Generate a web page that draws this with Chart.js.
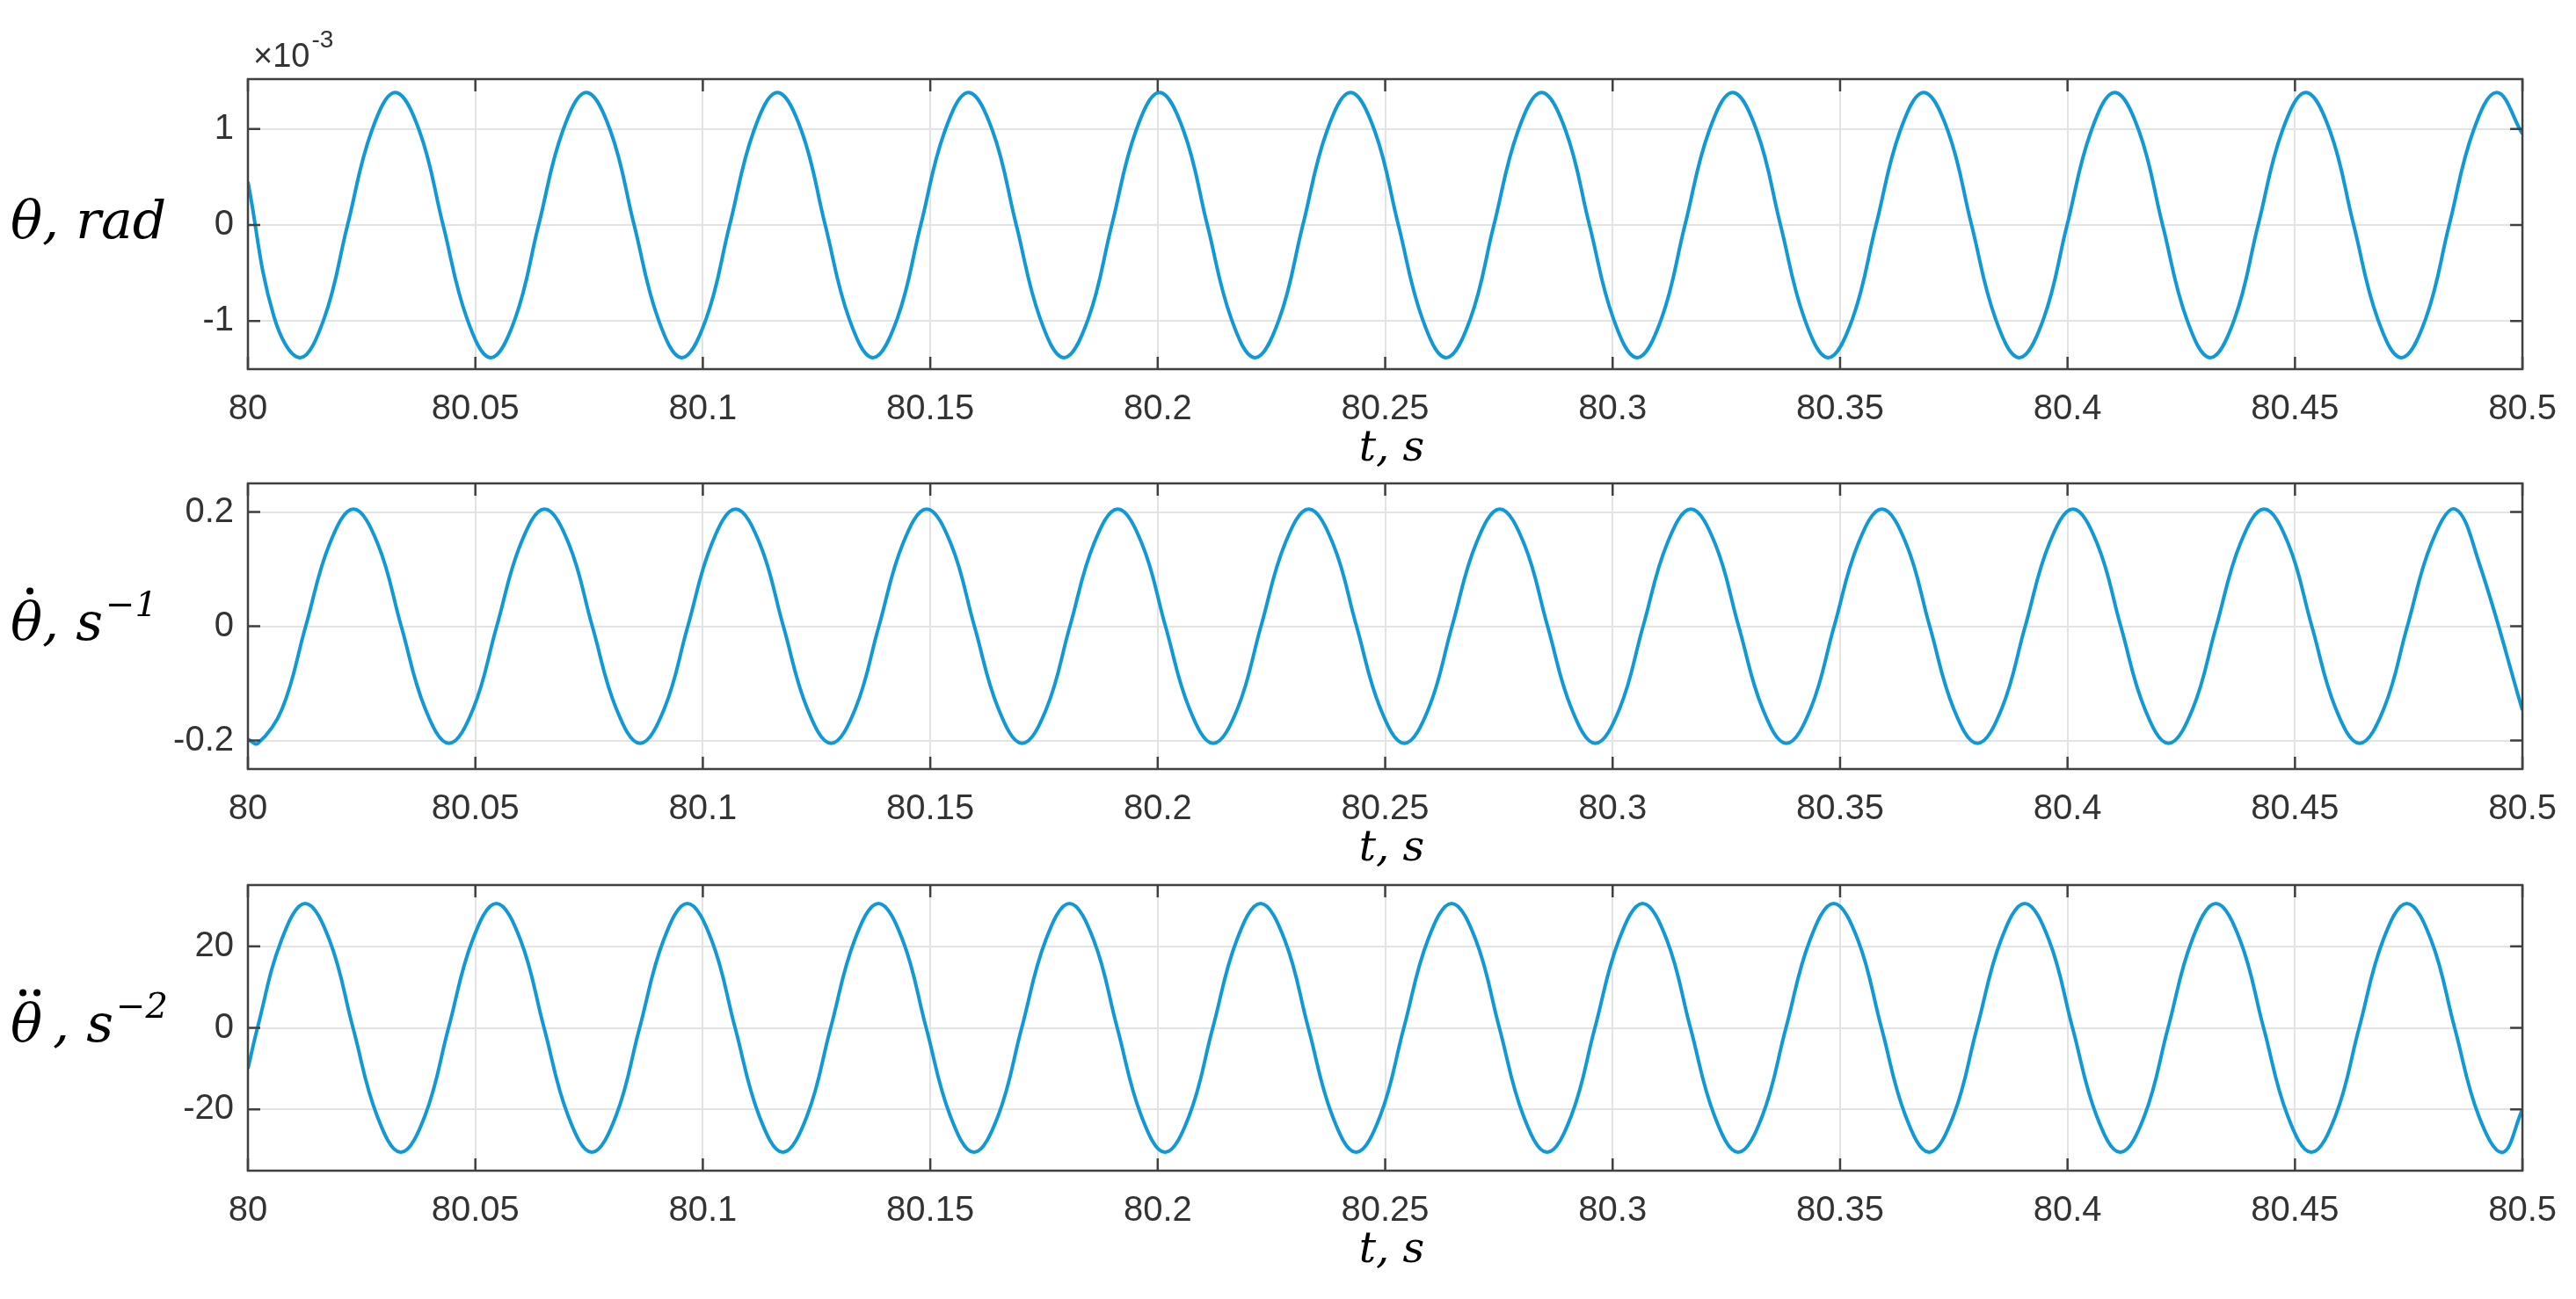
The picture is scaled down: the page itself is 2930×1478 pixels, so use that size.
<!DOCTYPE html>
<html>
<head>
<meta charset="utf-8">
<script src="https://cdn.jsdelivr.net/npm/chart.js@4"></script>
<style>
  body { margin: 0; background: #fff; }
  .box { position: absolute; left: 0; width: 2930px; height: 540px; }
</style>
</head>
<body>
<div class="box" style="top:0px"><canvas id="c1"></canvas></div>
<div class="box" style="top:460px"><canvas id="c2"></canvas></div>
<div class="box" style="top:917px"><canvas id="c3"></canvas></div>
<script>
// x tick labels (time, s)
const xTicks = [80, 80.05, 80.1, 80.15, 80.2, 80.25, 80.3, 80.35, 80.4, 80.45, 80.5];

// theta, in units of 1e-3 rad
const thetaT = [80, 80.0057,
  80.0114, 80.0167, 80.0219, 80.0272, 80.0324, 80.0377, 80.0429, 80.0482,
  80.0534, 80.0587, 80.0639, 80.0692, 80.0744, 80.0797, 80.0849, 80.0902,
  80.0954, 80.1007, 80.1059, 80.1112, 80.1164, 80.1217, 80.1269, 80.1322,
  80.1374, 80.1427, 80.1479, 80.1532, 80.1584, 80.1637, 80.1689, 80.1742,
  80.1794, 80.1847, 80.1899, 80.1952, 80.2004, 80.2057, 80.2109, 80.2162,
  80.2214, 80.2267, 80.2319, 80.2372, 80.2424, 80.2477, 80.2529, 80.2582,
  80.2634, 80.2687, 80.2739, 80.2792, 80.2844, 80.2897, 80.2949, 80.3002,
  80.3054, 80.3107, 80.3159, 80.3212, 80.3264, 80.3317, 80.3369, 80.3422,
  80.3474, 80.3527, 80.3579, 80.3632, 80.3684, 80.3737, 80.3789, 80.3842,
  80.3894, 80.3947, 80.3999, 80.4052, 80.4104, 80.4157, 80.4209, 80.4262,
  80.4314, 80.4367, 80.4419, 80.4472, 80.4524, 80.4577, 80.4629, 80.4682,
  80.4734, 80.4787, 80.4839, 80.4892, 80.4944, 80.5];
const thetaV = [0.45, -0.95,
  -1.38, -0.98, 0, 0.98, 1.38, 0.98, 0, -0.98,
  -1.38, -0.98, 0, 0.98, 1.38, 0.98, 0, -0.98,
  -1.38, -0.98, 0, 0.98, 1.38, 0.98, 0, -0.98,
  -1.38, -0.98, 0, 0.98, 1.38, 0.98, 0, -0.98,
  -1.38, -0.98, 0, 0.98, 1.38, 0.98, 0, -0.98,
  -1.38, -0.98, 0, 0.98, 1.38, 0.98, 0, -0.98,
  -1.38, -0.98, 0, 0.98, 1.38, 0.98, 0, -0.98,
  -1.38, -0.98, 0, 0.98, 1.38, 0.98, 0, -0.98,
  -1.38, -0.98, 0, 0.98, 1.38, 0.98, 0, -0.98,
  -1.38, -0.98, 0, 0.98, 1.38, 0.98, 0, -0.98,
  -1.38, -0.98, 0, 0.98, 1.38, 0.98, 0, -0.98,
  -1.38, -0.98, 0, 0.98, 1.38, 0.95];

// theta dot, 1/s
const omegaT = [80,
  80.0022, 80.0075, 80.0127, 80.018, 80.0232, 80.0285, 80.0337, 80.039,
  80.0442, 80.0495, 80.0547, 80.06, 80.0652, 80.0705, 80.0757, 80.081,
  80.0862, 80.0915, 80.0967, 80.102, 80.1072, 80.1125, 80.1177, 80.123,
  80.1282, 80.1335, 80.1387, 80.144, 80.1492, 80.1545, 80.1597, 80.165,
  80.1702, 80.1755, 80.1807, 80.186, 80.1912, 80.1965, 80.2017, 80.207,
  80.2122, 80.2175, 80.2227, 80.228, 80.2332, 80.2385, 80.2437, 80.249,
  80.2542, 80.2595, 80.2647, 80.27, 80.2752, 80.2805, 80.2857, 80.291,
  80.2962, 80.3015, 80.3067, 80.312, 80.3172, 80.3225, 80.3277, 80.333,
  80.3382, 80.3435, 80.3487, 80.354, 80.3592, 80.3645, 80.3697, 80.375,
  80.3802, 80.3855, 80.3907, 80.396, 80.4012, 80.4065, 80.4117, 80.417,
  80.4222, 80.4275, 80.4327, 80.438, 80.4432, 80.4485, 80.4537, 80.459,
  80.4642, 80.4695, 80.4747, 80.48, 80.4852, 80.4905, 80.5];
const omegaV = [-0.198,
  -0.205, -0.145, 0, 0.145, 0.205, 0.145, 0, -0.145,
  -0.205, -0.145, 0, 0.145, 0.205, 0.145, 0, -0.145,
  -0.205, -0.145, 0, 0.145, 0.205, 0.145, 0, -0.145,
  -0.205, -0.145, 0, 0.145, 0.205, 0.145, 0, -0.145,
  -0.205, -0.145, 0, 0.145, 0.205, 0.145, 0, -0.145,
  -0.205, -0.145, 0, 0.145, 0.205, 0.145, 0, -0.145,
  -0.205, -0.145, 0, 0.145, 0.205, 0.145, 0, -0.145,
  -0.205, -0.145, 0, 0.145, 0.205, 0.145, 0, -0.145,
  -0.205, -0.145, 0, 0.145, 0.205, 0.145, 0, -0.145,
  -0.205, -0.145, 0, 0.145, 0.205, 0.145, 0, -0.145,
  -0.205, -0.145, 0, 0.145, 0.205, 0.145, 0, -0.145,
  -0.205, -0.145, 0, 0.145, 0.205, 0.11, -0.147];

// theta double dot, 1/s^2
const accT = [80,
  80.0021, 80.0074, 80.0126, 80.0179, 80.0231, 80.0284, 80.0336, 80.0389,
  80.0441, 80.0494, 80.0546, 80.0599, 80.0651, 80.0704, 80.0756, 80.0809,
  80.0861, 80.0914, 80.0966, 80.1019, 80.1071, 80.1124, 80.1176, 80.1229,
  80.1281, 80.1334, 80.1386, 80.1439, 80.1491, 80.1544, 80.1596, 80.1649,
  80.1701, 80.1754, 80.1806, 80.1859, 80.1911, 80.1964, 80.2016, 80.2069,
  80.2121, 80.2174, 80.2226, 80.2279, 80.2331, 80.2384, 80.2436, 80.2489,
  80.2541, 80.2594, 80.2646, 80.2699, 80.2751, 80.2804, 80.2856, 80.2909,
  80.2961, 80.3014, 80.3066, 80.3119, 80.3171, 80.3224, 80.3276, 80.3329,
  80.3381, 80.3434, 80.3486, 80.3539, 80.3591, 80.3644, 80.3696, 80.3749,
  80.3801, 80.3854, 80.3906, 80.3959, 80.4011, 80.4064, 80.4116, 80.4169,
  80.4221, 80.4274, 80.4326, 80.4379, 80.4431, 80.4484, 80.4536, 80.4589,
  80.4641, 80.4694, 80.4746, 80.4799, 80.4851, 80.4904, 80.4956, 80.5];
const accV = [-10,
  0, 21.6, 30.5, 21.6, 0, -21.6, -30.5, -21.6,
  0, 21.6, 30.5, 21.6, 0, -21.6, -30.5, -21.6,
  0, 21.6, 30.5, 21.6, 0, -21.6, -30.5, -21.6,
  0, 21.6, 30.5, 21.6, 0, -21.6, -30.5, -21.6,
  0, 21.6, 30.5, 21.6, 0, -21.6, -30.5, -21.6,
  0, 21.6, 30.5, 21.6, 0, -21.6, -30.5, -21.6,
  0, 21.6, 30.5, 21.6, 0, -21.6, -30.5, -21.6,
  0, 21.6, 30.5, 21.6, 0, -21.6, -30.5, -21.6,
  0, 21.6, 30.5, 21.6, 0, -21.6, -30.5, -21.6,
  0, 21.6, 30.5, 21.6, 0, -21.6, -30.5, -21.6,
  0, 21.6, 30.5, 21.6, 0, -21.6, -30.5, -21.6,
  0, 21.6, 30.5, 21.6, 0, -21.6, -30.5, -20];

const thetaTicks = [-1, 0, 1];
const omegaTicks = [-0.2, 0, 0.2];
const accTicks = [-20, 0, 20];

const TXT = "#333333";
const SERIF = "italic 60px 'DejaVu Serif'";
const SERIF_SM = "italic 40px 'DejaVu Serif'";

// y label: theta with 0..2 dots, then ", unit" with optional superscript
function drawYLabel(ctx, cy, opts) {
  let x = 12;
  ctx.font = SERIF;
  ctx.fillText("θ", x, cy);
  const tw = ctx.measureText("θ").width;
  const cx = x + tw / 2 + 4;
  if (opts.dots === 1) {
    ctx.beginPath(); ctx.arc(cx, cy - 40, 4, 0, Math.PI * 2); ctx.fill();
  } else if (opts.dots === 2) {
    ctx.beginPath(); ctx.arc(cx - 8, cy - 40, 4, 0, Math.PI * 2); ctx.fill();
    ctx.beginPath(); ctx.arc(cx + 8, cy - 40, 4, 0, Math.PI * 2); ctx.fill();
  }
  x += tw + (opts.dots === 2 ? 12 : 0);
  ctx.fillText(opts.unit, x, cy);
  x += ctx.measureText(opts.unit).width;
  if (opts.sup) {
    ctx.font = SERIF_SM;
    ctx.fillText(opts.sup, x + 3, cy - 22);
  }
}

function makeChart(id, times, values, yMin, yMax, yTicks, opts) {
  const frame = {
    id: "frame" + id,
    afterDraw(chart) {
      const { ctx, chartArea: a, scales } = chart;
      ctx.save();
      ctx.strokeStyle = "#404040";
      ctx.lineWidth = 2.5;
      ctx.beginPath();
      xTicks.forEach(v => {
        const px = scales.x.getPixelForValue(v);
        ctx.moveTo(px, a.bottom); ctx.lineTo(px, a.bottom - 14);
        ctx.moveTo(px, a.top); ctx.lineTo(px, a.top + 14);
      });
      yTicks.forEach(v => {
        const py = scales.y.getPixelForValue(v);
        ctx.moveTo(a.left, py); ctx.lineTo(a.left + 14, py);
        ctx.moveTo(a.right, py); ctx.lineTo(a.right - 14, py);
      });
      ctx.stroke();
      ctx.strokeRect(a.left, a.top, a.right - a.left, a.bottom - a.top);

      ctx.fillStyle = "#000";
      ctx.textBaseline = "middle";
      ctx.textAlign = "left";
      drawYLabel(ctx, (a.top + a.bottom) / 2, opts);

      ctx.textAlign = "center";
      ctx.font = "italic 48px 'DejaVu Serif'";
      ctx.fillText("t, s", 1583, a.bottom + 92);
      if (opts.exp) {
        ctx.fillStyle = TXT;
        ctx.textAlign = "left";
        ctx.font = "38px 'Liberation Sans'";
        ctx.fillText("×10", 288, a.top - 24);
        const w = ctx.measureText("×10").width;
        ctx.font = "28px 'Liberation Sans'";
        ctx.fillText("-3", 290 + w, a.top - 44);
      }
      ctx.restore();
    }
  };

  return new Chart(document.getElementById(id), {
    type: "line",
    data: {
      datasets: [{
        data: times.map((t, i) => ({ x: t, y: values[i] })),
        borderColor: "#1199d6",
        borderWidth: 4,
        pointRadius: 0,
        tension: 0.4,
        fill: false,
      }],
    },
    options: {
      responsive: true,
      maintainAspectRatio: false,
      animation: false,
      devicePixelRatio: 1,
      layout: { padding: { top: 90, right: 50, left: 0, bottom: 0 } },
      plugins: { legend: { display: false }, tooltip: { enabled: false } },
      scales: {
        x: {
          type: "linear",
          min: 80, max: 80.5,
          afterBuildTicks: s => { s.ticks = xTicks.map(v => ({ value: v })); },
          afterFit: s => { s.height = opts.xh; },
          grid: { color: "#e3e3e3", lineWidth: 2, drawTicks: false },
          border: { display: false },
          ticks: {
            color: TXT, padding: 22, maxRotation: 0,
            font: { family: "Liberation Sans", size: 40 },
            callback: v => String(parseFloat(v.toFixed(2))),
          },
        },
        y: {
          min: yMin, max: yMax,
          afterBuildTicks: s => { s.ticks = yTicks.map(v => ({ value: v })); },
          afterFit: s => { s.width = 282; },
          grid: { color: "#e3e3e3", lineWidth: 2, drawTicks: false },
          border: { display: false },
          ticks: {
            color: TXT, padding: 16,
            font: { family: "Liberation Sans", size: 40 },
            callback: v => String(v),
          },
        },
      },
    },
    plugins: [frame],
  });
}

makeChart("c1", thetaT, thetaV, -1.5, 1.52, thetaTicks, { unit: ", rad", dots: 0, exp: true, xh: 120 });
makeChart("c2", omegaT, omegaV, -0.25, 0.25, omegaTicks, { unit: ", s", sup: "−1", dots: 1, xh: 125 });
makeChart("c3", accT, accV, -35, 35, accTicks, { unit: ", s", sup: "−2", dots: 2, xh: 125 });
</script>
</body>
</html>
